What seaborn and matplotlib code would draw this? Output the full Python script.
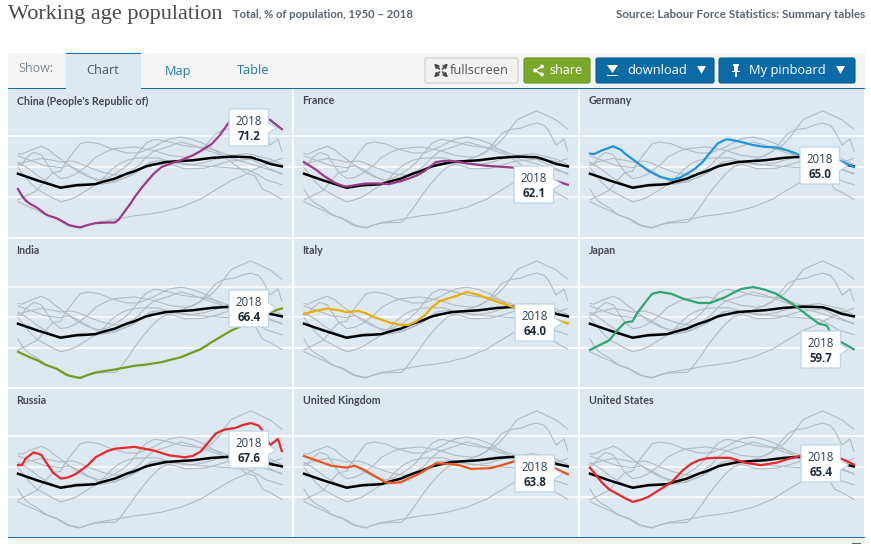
import numpy as np
import pandas as pd
import matplotlib
matplotlib.use("Agg")
import matplotlib.pyplot as plt
from matplotlib.patches import Rectangle, Polygon, FancyBboxPatch, Circle
import seaborn as sns

# values
oecd_years = [1950, 1955, 1961, 1963, 1965, 1968, 1970, 1972, 1975, 1978, 1980, 1983, 1985, 1988, 1990, 1995, 2000, 2005, 2010, 2012, 2015, 2018]
oecd_values = [63.9, 62.8, 61.6, 61.8, 62.0, 62.1, 62.2, 62.6, 63.1, 63.9, 64.3, 65.1, 65.4, 65.8, 65.9, 66.1, 66.5, 66.7, 66.6, 66.2, 65.5, 65.1]

china_years = [1950, 1951, 1952, 1953, 1955, 1957, 1958, 1960, 1962, 1963, 1965, 1966, 1968, 1970, 1973, 1975, 1976, 1977, 1979, 1980, 1982, 1984, 1985, 1987, 1990, 1992, 1995, 1997, 2000, 2002, 2004, 2005, 2010, 2015, 2018]
china_values = [61.4, 60.3, 59.5, 59.0, 58.3, 57.3, 57.0, 56.6, 55.9, 55.5, 55.2, 55.1, 55.5, 55.8, 55.9, 55.9, 56.4, 57.3, 59.0, 60.0, 61.7, 63.2, 63.9, 65.0, 65.7, 66.1, 66.9, 67.6, 68.8, 70.2, 72.0, 72.8, 74.2, 72.7, 71.2]

france_years = [1950, 1953, 1955, 1958, 1960, 1961, 1963, 1966, 1969, 1972, 1975, 1977, 1979, 1981, 1983, 1984, 1986, 1988, 1992, 1997, 2004, 2009, 2012, 2014, 2018]
france_values = [65.8, 64.6, 63.6, 62.4, 61.9, 61.8, 62.0, 62.3, 62.3, 62.2, 62.7, 63.1, 63.6, 64.3, 65.3, 65.8, 66.0, 66.0, 65.6, 65.2, 64.9, 64.6, 63.7, 62.9, 62.1]

germany_years = [1950, 1951, 1953, 1956, 1958, 1959, 1962, 1965, 1968, 1971, 1973, 1975, 1977, 1979, 1981, 1983, 1985, 1986, 1989, 1992, 1995, 1998, 2001, 2004, 2009, 2015, 2018]
germany_values = [67.2, 67.1, 67.7, 68.4, 67.8, 67.2, 65.8, 64.4, 63.4, 62.9, 63.2, 63.9, 64.7, 65.8, 67.4, 68.9, 69.5, 69.5, 69.1, 68.6, 68.3, 68.2, 67.7, 67.0, 66.6, 65.9, 65.0]

india_years = [1950, 1952, 1953, 1955, 1957, 1960, 1962, 1963, 1965, 1966, 1968, 1970, 1975, 1980, 1983, 1987, 1990, 1992, 1995, 1997, 2000, 2005, 2008, 2010, 2015, 2018]
india_values = [59.3, 58.7, 58.4, 57.9, 57.2, 56.5, 55.7, 55.4, 55.1, 55.0, 55.5, 55.9, 56.4, 57.0, 57.2, 57.6, 58.1, 58.4, 59.2, 59.7, 60.9, 62.8, 63.6, 64.3, 65.8, 66.4]

italy_years = [1950, 1953, 1956, 1959, 1961, 1964, 1966, 1968, 1972, 1975, 1977, 1979, 1981, 1983, 1985, 1987, 1989, 1992, 1995, 1998, 2004, 2010, 2016, 2018]
italy_values = [65.5, 66.0, 66.4, 66.1, 65.8, 66.0, 65.6, 65.0, 64.1, 63.7, 63.7, 64.3, 65.2, 66.6, 67.6, 68.0, 68.4, 69.1, 68.6, 67.9, 66.6, 65.5, 64.3, 64.0]

japan_years = [1950, 1955, 1957, 1959, 1961, 1962, 1964, 1966, 1968, 1971, 1974, 1978, 1981, 1983, 1985, 1987, 1989, 1992, 1995, 1998, 2001, 2003, 2006, 2009, 2011, 2013, 2015, 2018]
japan_values = [59.6, 61.2, 62.8, 64.1, 64.3, 65.5, 67.2, 68.8, 69.1, 68.8, 68.0, 67.3, 67.3, 67.8, 68.3, 69.0, 69.6, 69.9, 69.5, 68.8, 67.6, 66.8, 65.3, 63.9, 63.6, 61.4, 60.8, 59.7]

russia_years = [1950, 1951, 1952, 1954, 1956, 1957, 1959, 1961, 1963, 1965, 1968, 1970, 1973, 1975, 1980, 1985, 1989, 1993, 1995, 1997, 1999, 2001, 2003, 2006, 2008, 2010, 2012, 2013, 2015, 2017, 2018]
russia_values = [65.3, 65.3, 66.4, 67.4, 67.0, 66.0, 64.1, 63.1, 63.3, 63.9, 65.3, 66.6, 67.6, 68.0, 68.3, 67.7, 66.9, 66.6, 66.8, 67.5, 69.0, 70.5, 71.1, 71.4, 71.9, 72.2, 71.8, 71.0, 68.6, 69.6, 67.6]

uk_years = [1950, 1954, 1957, 1961, 1963, 1965, 1968, 1971, 1973, 1975, 1978, 1980, 1982, 1984, 1988, 1990, 1993, 1998, 2001, 2004, 2010, 2015, 2018]
uk_values = [66.8, 65.9, 65.2, 64.9, 65.2, 64.7, 63.6, 62.5, 62.4, 62.5, 63.4, 64.0, 64.8, 65.6, 65.5, 65.3, 64.7, 64.8, 65.3, 65.9, 66.3, 64.7, 63.8]

us_years = [1950, 1953, 1955, 1957, 1959, 1961, 1963, 1965, 1968, 1971, 1974, 1976, 1978, 1980, 1982, 1986, 1988, 1990, 1994, 1998, 2001, 2004, 2009, 2015, 2018]
us_values = [64.9, 62.5, 61.3, 60.6, 59.9, 59.3, 59.6, 60.1, 61.3, 62.5, 64.5, 65.5, 66.1, 66.4, 66.5, 66.5, 66.1, 65.7, 65.3, 65.7, 66.3, 66.8, 67.2, 66.3, 65.4]

countries = ["China (People's Republic of)", "France", "Germany", "India", "Italy", "Japan",
             "Russia", "United Kingdom", "United States"]
all_years = [china_years, france_years, germany_years, india_years, italy_years, japan_years,
             russia_years, uk_years, us_years]
all_values = [china_values, france_values, germany_values, india_values, italy_values, japan_values,
              russia_values, uk_values, us_values]
colors = ["#9a3b87", "#9a3b87", "#1f96d8", "#6f9d1f", "#e5ae0b", "#2fa573", "#e8282f", "#e5571d", "#e8282f"]
labels_2018 = ["71.2", "62.1", "65.0", "66.4", "64.0", "59.7", "67.6", "63.8", "65.4"]

df = pd.concat([pd.DataFrame({"country": c, "year": y, "value": v})
                for c, y, v in zip(countries, all_years, all_values)], ignore_index=True)
oecd = pd.DataFrame({"year": oecd_years, "value": oecd_values})

W, H = 871, 544
PANEL_BG = "#dde8f0"
BLUE = "#0b6fae"
plt.rcParams["font.family"] = ["Open Sans", "DejaVu Sans"]

fig = plt.figure(figsize=(W / 100, H / 100), dpi=100, facecolor="white")

col_left = [8, 294, 580]
col_start = [18, 304, 590]  # pixel of 1950 in each column
row_top = [89, 239, 389]
panel_w, panel_h = 284, 148
px_per_year = 3.88
px_per_unit = 6.1

for i, country in enumerate(countries):
    row, col = divmod(i, 3)
    l, t = col_left[col], row_top[row]
    ax = fig.add_axes([l / W, 1 - (t + panel_h) / H, panel_w / W, panel_h / H])
    ax.set_facecolor(PANEL_BG)
    ax.set_xlim(1950 - (col_start[col] - l) / px_per_year,
                1950 + (l + panel_w - col_start[col]) / px_per_year)
    top = 70 + 47.5 / px_per_unit
    ax.set_ylim(top - panel_h / px_per_unit, top)
    ax.set_yticks([60, 65, 70])
    ax.set_xticks([])
    ax.tick_params(left=False, labelleft=False)
    ax.grid(axis="y", color="white", lw=1.1)
    ax.set_axisbelow(True)
    for s in ax.spines.values():
        s.set_visible(False)

    others = df[df["country"] != country]
    sns.lineplot(data=others, x="year", y="value", units="country", estimator=None,
                 color="#b3bbc1", lw=0.8, ax=ax, legend=False)
    sns.lineplot(data=oecd, x="year", y="value", color="black", lw=1.8, ax=ax, legend=False)
    sns.lineplot(data=df[df["country"] == country], x="year", y="value", color=colors[i],
                 lw=1.6, ax=ax, legend=False)
    ax.set_xlabel("")
    ax.set_ylabel("")

# everything else is page furniture, drawn in pixel coordinates on top
ov = fig.add_axes([0, 0, 1, 1], zorder=10)
ov.set_xlim(0, W)
ov.set_ylim(H, 0)
ov.axis("off")
ov.patch.set_alpha(0)

for i, country in enumerate(countries):
    row, col = divmod(i, 3)
    ov.text(col_left[col] + 8.5, row_top[row] + 12, country, family="Lato", fontsize=7.65, fontweight="bold",
            color="#46464e", va="center", ha="left")

# callouts: box left, box top, y of the pointer
box_left = [229, 514, 800, 229, 515, 801, 229, 515, 801]
box_top = [109, 166, 147, 290, 304, 331, 431, 455, 445]
pointer_y = [128, 184, 166, 308, 323, 349, 450, 474, 465]
for x, y, py, val in zip(box_left, box_top, pointer_y, labels_2018):
    bw, bh = 39.5, 37
    pts = [(x, y), (x + bw, y), (x + bw, py - 5), (x + bw + 8, py), (x + bw, py + 5),
           (x + bw, y + bh), (x, y + bh)]
    ov.add_patch(Polygon(pts, closed=True, fc="white", ec="#bcd6e8", lw=0.9))
    ov.text(x + bw / 2, y + 12.5, "2018", fontsize=8.3, color="#2c3e50", ha="center", va="center")
    ov.text(x + bw / 2, y + 27.5, val, fontsize=8.3, fontweight="bold", color="#1f2d3d", ha="center", va="center")

# header text
ov.text(8, 14, "Working age population", family="Liberation Serif", fontsize=16, color="#4a4a4a",
        va="center", ha="left")
ov.text(233, 14, "Total, % of population, 1950 – 2018", family="Lato", fontsize=8.15, fontweight="bold",
        color="#5b6670", va="center", ha="left")
ov.text(865, 14, "Source: Labour Force Statistics: Summary tables", family="Lato", fontsize=8.35, fontweight="bold",
        color="#5b6670", va="center", ha="right")

# tab bar
ov.add_patch(Rectangle((8, 53), 857, 35, fc="#f4f4f4", ec="none"))
ov.add_patch(Rectangle((8, 88), 857, 1, fc=BLUE, ec="none"))
ov.add_patch(Rectangle((66, 53), 75, 36, fc=PANEL_BG, ec="none"))
ov.add_patch(Rectangle((66, 53), 75, 1, fc=BLUE, ec="none"))
ov.text(18, 68, "Show:", fontsize=9, color="#7e8c96", va="center")
ov.text(103, 71, "Chart", fontsize=9.2, color="#48596a", va="center", ha="center")
ov.text(178, 71, "Map", fontsize=9.2, color="#1f7ab8", va="center", ha="center")
ov.text(253, 71, "Table", fontsize=9.2, color="#1f7ab8", va="center", ha="center")

# bottom bar
ov.add_patch(Rectangle((8, 537), 857, 1, fc=BLUE, ec="none"))
ov.add_patch(Rectangle((8, 538), 857, 6, fc="#f4f4f4", ec="none"))
ov.plot([852, 860], [543, 543], color="#666666", lw=0.8)


def button(x0, x1, color, edge):
    ov.add_patch(FancyBboxPatch((x0 + 1, 58), x1 - x0 - 2, 25, boxstyle="round,pad=0,rounding_size=2",
                                fc=color, ec=edge, lw=0.8))


button(424, 519, "#f2f2f2", "#cfcfcf")
button(523, 591, "#7aa82b", "#6b9624")
button(595, 715, "#0c6aa6", "#0a5c90")
button(718, 856, "#0c6aa6", "#0a5c90")

# fullscreen icon
for sx, sy in [(-1, -1), (1, -1), (-1, 1), (1, 1)]:
    cx, cy = 441, 70.5
    ov.annotate("", xy=(cx + sx * 7, cy + sy * 7), xytext=(cx + sx * 1.5, cy + sy * 1.5),
                arrowprops=dict(arrowstyle="-|>", lw=1.2, color="#4a4a4a", mutation_scale=6,
                                shrinkA=0, shrinkB=0))
ov.text(450, 70.5, "fullscreen", fontsize=9.3, color="#555555", va="center")

# share icon
for a, b in [((535, 70.5), (542, 66.5)), ((535, 70.5), (542, 74.5))]:
    ov.plot([a[0], b[0]], [a[1], b[1]], color="white", lw=1)
for c in [(535, 70.5), (542, 66.5), (542, 74.5)]:
    ov.add_patch(Circle(c, 1.9, fc="white", ec="none"))
ov.text(549, 70.5, "share", fontsize=9, color="white", va="center")

# download icon and text
ov.add_patch(Polygon([(607, 65), (618, 65), (612.5, 73)], fc="white", ec="none"))
ov.add_patch(Rectangle((607, 75), 11, 1.4, fc="white", ec="none"))
ov.text(627, 70.5, "download", fontsize=9.3, color="white", va="center")
ov.add_patch(Polygon([(697, 66), (706, 66), (701.5, 74)], fc="white", ec="none"))

# pin icon and text
ov.add_patch(Rectangle((733, 64), 6, 1.5, fc="white", ec="none"))
ov.add_patch(Rectangle((734.2, 65), 3.6, 6, fc="white", ec="none"))
ov.add_patch(Rectangle((732, 70.5), 8, 1.6, fc="white", ec="none"))
ov.add_patch(Rectangle((735.4, 72), 1.2, 5, fc="white", ec="none"))
ov.text(749, 70.5, "My pinboard", fontsize=9.3, color="white", va="center")
ov.add_patch(Polygon([(836, 66), (845, 66), (840.5, 74)], fc="white", ec="none"))

fig.savefig("out.png", dpi=100, facecolor="white")
